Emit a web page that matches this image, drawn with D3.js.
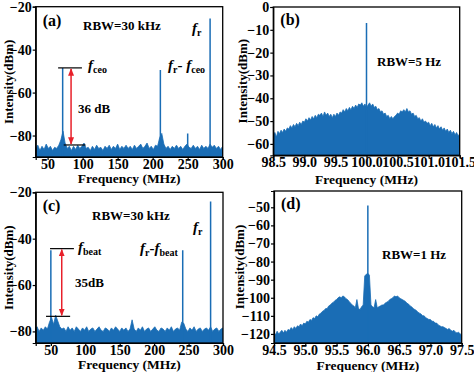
<!DOCTYPE html>
<html>
<head>
<meta charset="utf-8">
<script src="https://cdnjs.cloudflare.com/ajax/libs/d3/7.8.5/d3.min.js"></script>
<style>
  body { margin: 0; background: #fff; }
  svg { display: block; font-family: "Liberation Serif", "Times New Roman", serif; font-weight: bold; }
  .axis text { font-family: "Liberation Serif", "Times New Roman", serif; font-size: 14px; font-weight: bold; fill: #000; }
  .axis path, .axis line { stroke: #000; stroke-width: 1.2; }
</style>
</head>
<body>
<div id="main"></div>
<script>
// ---- data ----
// (a) RF spectrum, RBW 30 kHz: noise floor sampled every 3 MHz from 33 MHz
const aStart = 33, aStep = 3;
const aNoise = [-86,-84.5,-87,-85,-86.5,-84,-86,-85,-87,-85.5,-86,-84.5,-82,-78,-83.5,-86,-85,-87,-85,-86.5,
  -84.5,-86,-85,-83.5,-86,-85.5,-87,-85,-86.5,-84.5,-86,-85.5,-87,-85,-86,-84.5,-86.5,-85,-86,-84,
  -86.5,-85,-86,-84.5,-86,-85,-86.5,-84.5,-86,-85,-84,-86,-85,-83.5,-86,-85,-86.5,-84.5,-85,-81,
  -79,-84,-86,-85,-86.5,-85,-86,-84.5,-86,-85,-86.5,-85,-84,-85.5,-86,-84.5,-86,-85,-86.5,-84.5,
  -86,-85,-86,-84,-85.5,-84.5,-86,-85,-86.5,-85];
const aPeakF = [71.5, 211, 250, 282];
const aPeakDb = [-48.5, -49.5, -79, -25.5];

// (b) RBW 5 Hz, every 0.025 MHz from 98.5 MHz
const bStart = 98.5, bStep = 0.025;
const bNoise = [-56,-55,-57,-54.5,-55.5,-54,-55,-53.5,-54.5,-53,
  -53.5,-52,-53,-51.5,-52.5,-51,-52,-50.5,-51.5,-50,
  -50.5,-49,-50,-48.5,-49.5,-48,-49,-47.5,-48.5,-47,
  -47.5,-46.5,-48,-46,-47.5,-46.5,-48,-47,-48.5,-47,
  -48,-46.5,-47.5,-46,-46.5,-45,-46,-44.5,-45.5,-44,
  -45,-43.5,-44.5,-43,-44,-42.5,-43,-42,-43.5,-42.5,
  -44,-43,-42,-43.5,-42.5,-44,-43.5,-45,-44.5,-46,
  -45.5,-47,-46.5,-48,-47.5,-49,-48,-49,-48,-47.5,
  -46.5,-47,-45.5,-46,-45,-46,-44.5,-46,-45.5,-47,
  -46.5,-48,-47.5,-49,-48.5,-50,-49,-50.5,-50,-51,
  -50.5,-52,-51,-52.5,-51.5,-53,-52,-53.5,-52.5,-54,
  -53,-54.5,-53.5,-55,-54,-55.5,-54.5,-56,-55,-56.5,-55.5];
const bPeakF = [100.0];
const bPeakDb = [-7];

// (c) RBW 30 kHz, every 3 MHz from 27 MHz
const cStart = 27, cStep = 3;
const cNoise = [-79,-78,-80,-78.5,-79.5,-78,-79,-76,-74,-77,-73,-75.5,-78,-79,-78.5,-80,-78,-79.5,-78.5,-80,
  -78,-79,-80,-78.5,-79.5,-78,-80,-79,-78.5,-80,-79,-78,-79.5,-80,-78.5,-79,-80,-78.5,-79.5,-78,
  -79,-80,-78.5,-79.5,-78.5,-80,-79,-75,-79,-80,-78.5,-79.5,-78,-80,-79,-78.5,-80,-79,-78,-79.5,
  -80,-78.5,-79,-80,-78.5,-79.5,-78,-80,-79,-78.5,-79.5,-76,-76.5,-79,-80,-78.5,-79.5,-78,-80,-79,
  -78.5,-80,-79,-78.5,-79.5,-78,-80,-79,-78.5,-80,-79,-78.5];
const cPeakF = [50, 241.5, 282];
const cPeakDb = [-45, -45, -24];

// (d) RBW 1 Hz, every 0.025 MHz from 94.5 MHz
const dStart = 94.5, dStep = 0.025;
const dNoise = [-119,-120.5,-118.5,-120,-119,-118,-119.5,-118,-119,-117.5,
  -118,-116.5,-117.5,-116,-117,-115.5,-116,-114.5,-115.5,-114,
  -114.5,-113,-113.5,-112,-112.5,-111,-111.5,-110,-110.5,-109,
  -108.5,-107.5,-107,-106,-106,-104.5,-104,-103,-102.5,-101.5,
  -101,-100,-99.5,-100,-99,-99.5,-100.5,-101,-102,-103,
  -104,-104.5,-105.5,-101,-106,-106.5,-105,-104,-88,-87,
  -86.5,-87.5,-104,-105,-105.5,-101,-105.5,-105,-104.5,-104,
  -104,-103,-102.5,-102,-101,-100.5,-100,-99,-99.5,-99,
  -100,-100.5,-101,-101.5,-102,-103,-103.5,-104.5,-105,-106,
  -106.5,-107,-108,-108.5,-109,-110,-110,-111,-111.5,-112,
  -112,-113,-113,-114,-114,-115,-115.5,-116,-116,-116.5,
  -117,-117.5,-117,-118,-118.5,-118,-119,-119.5,-119,-120,-120.5];
const dPeakF = [96.0];
const dPeakDb = [-49];

// tick labels
const aXTicks = [50, 100, 150, 200, 250, 300], aYTicks = [-80, -60, -40, -20];
const bXTicks = [98.5, 99.0, 99.5, 100.0, 100.5, 101.0, 101.5], bYTicks = [-60, -50, -40, -30, -20, -10, 0];
const cXTicks = [50, 100, 150, 200, 250, 300], cYTicks = [-80, -60, -40, -20];
const dXTicks = [94.5, 95.0, 95.5, 96.0, 96.5, 97.0, 97.5], dYTicks = [-120, -110, -100, -90, -80, -70, -60, -50];

const blue = '#1a6db5';

const panels = [
  { tag: '(a)', noise: aNoise, start: aStart, step: aStep, pf: aPeakF, pd: aPeakDb,
    xd: [33, 300], yd: [-90, -20], xt: aXTicks, yt: aYTicks, fmt: d3.format('d'),
    box: [35.7, 6.7, 222.7, 157], ytx: 8, xty: 183 },
  { tag: '(b)', noise: bNoise, start: bStart, step: bStep, pf: bPeakF, pd: bPeakDb,
    xd: [98.5, 101.5], yd: [-65, 0], xt: bXTicks, yt: bYTicks, fmt: d3.format('.1f'),
    box: [273.3, 7, 459.7, 155.3], ytx: 242, xty: 184 },
  { tag: '(c)', noise: cNoise, start: cStart, step: cStep, pf: cPeakF, pd: cPeakDb,
    xd: [28, 300], yd: [-85, -20], xt: cXTicks, yt: cYTicks, fmt: d3.format('d'),
    box: [35.7, 192.3, 223, 343], ytx: 8, xty: 369 },
  { tag: '(d)', noise: dNoise, start: dStart, step: dStep, pf: dPeakF, pd: dPeakDb,
    xd: [94.5, 97.5], yd: [-125, -41], xt: dXTicks, yt: dYTicks, fmt: d3.format('.1f'),
    box: [274, 191, 461.7, 343], ytx: 239, xty: 370 }
];

const svg = d3.select('#main').append('svg').attr('width', 474).attr('height', 372);

panels.forEach((p, k) => {
  const [x0, y0, x1, y1] = p.box;
  const x = d3.scaleLinear().domain(p.xd).range([x0, x1]);
  const y = d3.scaleLinear().domain(p.yd).range([y1, y0]);
  p.x = x; p.y = y;

  const clipId = 'clip' + k;
  svg.append('clipPath').attr('id', clipId)
    .append('rect').attr('x', x0).attr('y', y0).attr('width', x1 - x0).attr('height', y1 - y0);

  const g = svg.append('g').attr('clip-path', `url(#${clipId})`);
  const pts = p.noise.map((v, i) => [p.start + i * p.step, v]);
  const area = d3.area().x(d => x(d[0])).y0(y1).y1(d => y(d[1]));
  g.append('path').attr('d', area(pts)).attr('fill', blue)
    .attr('stroke', blue).attr('stroke-width', 0.8);

  // narrow carrier / beat peaks
  g.selectAll('line.peak').data(p.pf.map((f, i) => [f, p.pd[i]])).join('line')
    .attr('class', 'peak')
    .attr('x1', d => x(d[0])).attr('x2', d => x(d[0]))
    .attr('y1', y1).attr('y2', d => y(d[1]))
    .attr('stroke', blue).attr('stroke-width', 1.5);

  svg.append('g').attr('class', 'axis').attr('transform', `translate(0,${y1})`)
    .call(d3.axisBottom(x).tickValues(p.xt).tickFormat(p.fmt).tickSize(3).tickPadding(-1));
  svg.append('g').attr('class', 'axis').attr('transform', `translate(${x0},0)`)
    .call(d3.axisLeft(y).tickValues(p.yt).tickSize(3).tickPadding(1));

  svg.append('rect').attr('x', x0).attr('y', y0).attr('width', x1 - x0).attr('height', y1 - y0)
    .attr('fill', 'none').attr('stroke', '#000').attr('stroke-width', 1.3);

  svg.append('text').attr('x', (x0 + x1) / 2).attr('y', p.xty).attr('text-anchor', 'middle')
    .attr('font-size', 13.5).text('Frequency (MHz)');
  svg.append('text').attr('transform', `translate(${p.ytx},${(y0 + y1) / 2}) rotate(-90)`)
    .attr('text-anchor', 'middle').attr('dy', '0.35em').attr('font-size', 13).text('Intensity(dBm)');

  svg.append('text').attr('x', x0 + 7).attr('y', y0 + (k % 2 ? 18 : 19)).attr('font-size', 16).text(p.tag);
});

// RBW notes
const notes = [[83, 30, 'RBW=30 kHz'], [377, 66, 'RBW=5 Hz'], [92, 220, 'RBW=30 kHz'], [382, 259, 'RBW=1 Hz']];
notes.forEach(n => svg.append('text').attr('x', n[0]).attr('y', n[1]).attr('font-size', 13).text(n[2]));

// f labels with subscripts: parts [text, italic, sub]
function fLabel(px, py, parts) {
  const t = svg.append('text').attr('x', px).attr('y', py).attr('font-size', 15);
  let sub = false;
  parts.forEach(([s, it, sb]) => {
    const ts = t.append('tspan').text(s).attr('font-style', it ? 'italic' : 'normal');
    if (sb) ts.attr('font-size', 10);
    if (sb !== sub) ts.attr('dy', sb ? 3 : -3);
    sub = sb;
  });
}
fLabel(88, 73, [['f', 1, 0], ['ceo', 0, 1]]);
fLabel(168, 73, [['f', 1, 0], ['r', 0, 1], ['- ', 0, 0], ['f', 1, 0], ['ceo', 0, 1]]);
fLabel(192, 36, [['f', 1, 0], ['r', 0, 1]]);
fLabel(78, 255, [['f', 1, 0], ['beat', 0, 1]]);
fLabel(140, 256, [['f', 1, 0], ['r', 0, 1], ['-', 0, 0], ['f', 1, 0], ['beat', 0, 1]]);
fLabel(193, 235, [['f', 1, 0], ['r', 0, 1]]);

// dB depth markers (data units): [panel, fromF, toF, level] and arrows [panel, f, top, bottom]
const aMarks = [[0, 65, 99, -48.5], [0, 73, 104, -84.4]];
const cMarks = [[2, 48.8, 83.5, -44.3], [2, 43, 78, -73.5]];
const arrows = [[0, 83.5, -48.5, -84.4], [2, 65.8, -44.3, -73.5]];

svg.append('defs').append('marker').attr('id', 'ah').attr('viewBox', '0 0 10 10')
  .attr('refX', 9).attr('refY', 5).attr('markerWidth', 5).attr('markerHeight', 5)
  .attr('orient', 'auto-start-reverse')
  .append('path').attr('d', 'M0,1L10,5L0,9Z').attr('fill', '#e8202a');

aMarks.concat(cMarks).forEach(([k, f0, f1, lv]) => {
  const p = panels[k];
  svg.append('line').attr('x1', p.x(f0)).attr('x2', p.x(f1)).attr('y1', p.y(lv)).attr('y2', p.y(lv))
    .attr('stroke', '#000').attr('stroke-width', 1.2);
});
arrows.forEach(([k, f, top, bot]) => {
  const p = panels[k];
  svg.append('line').attr('x1', p.x(f)).attr('x2', p.x(f)).attr('y1', p.y(top) + 1).attr('y2', p.y(bot) - 1)
    .attr('stroke', '#e8202a').attr('stroke-width', 1.5)
    .attr('marker-start', 'url(#ah)').attr('marker-end', 'url(#ah)');
});

svg.append('text').attr('x', 78).attr('y', 113).attr('font-size', 13).text('36 dB');
svg.append('text').attr('x', 75).attr('y', 287).attr('font-size', 13).text('35dB');
</script>
</body>
</html>
